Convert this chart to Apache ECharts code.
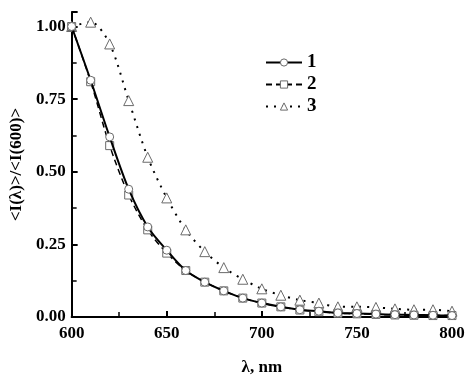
<!DOCTYPE html>
<html><head><meta charset="utf-8">
<script src="https://cdn.jsdelivr.net/npm/echarts@6/dist/echarts.min.js"></script>
<style>html,body{margin:0;padding:0;background:#fff}#c{width:474px;height:381px}</style>
</head><body><div id="c"></div>
<script>
var wavelengths = [600,610,620,630,640,650,660,670,680,690,700,710,720,730,740,750,760,770,780,790,800];
var series1 = [1.00,0.815,0.62,0.44,0.31,0.23,0.16,0.12,0.09,0.065,0.048,0.035,0.025,0.02,0.014,0.012,0.010,0.008,0.007,0.006,0.005];
var series2 = [1.00,0.81,0.59,0.42,0.30,0.22,0.16,0.12,0.09,0.065,0.048,0.035,0.024,0.018,0.013,0.011,0.009,0.007,0.006,0.005,0.005];
var series3 = [1.00,1.015,0.94,0.745,0.55,0.41,0.30,0.225,0.17,0.13,0.097,0.075,0.058,0.048,0.035,0.035,0.033,0.028,0.025,0.025,0.02];
var names = ['1','2','3'];
var xTicks = [600,650,700,750,800];
var yTicks = [0,0.25,0.5,0.75,1.0];

function pairs(v){ return wavelengths.map(function(x,i){return [x,v[i]];}); }
var font = '"Liberation Serif","Times New Roman",serif';
var mk = {color:'#fff', borderColor:'#6a6a6a', borderWidth:1};
var chart = echarts.init(document.getElementById('c'));
chart.setOption({
  animation:false,
  grid:{left:71,right:22,top:12,bottom:61},
  legend:{
    orient:'vertical', left:260, top:48, itemWidth:36, itemHeight:9, itemGap:3,
    itemStyle:{color:'#fff', borderColor:'#6a6a6a', borderWidth:1},
    textStyle:{fontFamily:font,fontWeight:'bold',fontSize:19,color:'#000'},
    data:names
  },
  xAxis:{
    type:'value', min:600, max:800, interval:50,
    name:'λ, nm', nameLocation:'middle', nameGap:42,
    nameTextStyle:{fontFamily:font,fontWeight:'bold',fontSize:17,color:'#000'},
    axisLine:{lineStyle:{color:'#000',width:2}},
    axisTick:{inside:true,length:6,lineStyle:{color:'#000',width:2}},
    minorTick:{show:true,splitNumber:2,length:5,lineStyle:{color:'#000',width:1.5}},
    axisLabel:{margin:8,fontFamily:font,fontWeight:'bold',fontSize:17,color:'#000',
      formatter:function(v){return xTicks.indexOf(v)>=0?String(v):'';}},
    splitLine:{show:false}
  },
  yAxis:{
    type:'value', min:0, max:1.05, interval:0.25,
    name:'<I(λ)>/<I(600)>', nameLocation:'middle', nameGap:45,
    nameTextStyle:{fontFamily:font,fontWeight:'bold',fontSize:17,color:'#000'},
    axisLine:{show:true,lineStyle:{color:'#000',width:2}},
    axisTick:{inside:true,length:6,lineStyle:{color:'#000',width:2}},
    minorTick:{show:true,splitNumber:2,length:5,lineStyle:{color:'#000',width:1.5}},
    axisLabel:{margin:6,showMaxLabel:false,fontFamily:font,fontWeight:'bold',fontSize:17,color:'#000',
      formatter:function(v){
        for(var i=0;i<yTicks.length;i++){ if(Math.abs(yTicks[i]-v)<1e-6) return yTicks[i].toFixed(2); }
        return '';
      }},
    splitLine:{show:false}
  },
  series:[
    {name:names[0],type:'line',data:pairs(series1),smooth:0.3,symbol:'circle',symbolSize:8,
     lineStyle:{color:'#000',width:2,type:'solid'},itemStyle:mk,z:3},
    {name:names[1],type:'line',data:pairs(series2),smooth:0.3,symbol:'rect',symbolSize:8,
     lineStyle:{color:'#000',width:1.5,type:[6,4]},itemStyle:mk,z:2},
    {name:names[2],type:'line',data:pairs(series3),smooth:0.3,symbol:'triangle',symbolSize:10,
     lineStyle:{color:'#000',width:2,type:[2,6]},itemStyle:mk,z:1}
  ]
});
</script></body></html>
